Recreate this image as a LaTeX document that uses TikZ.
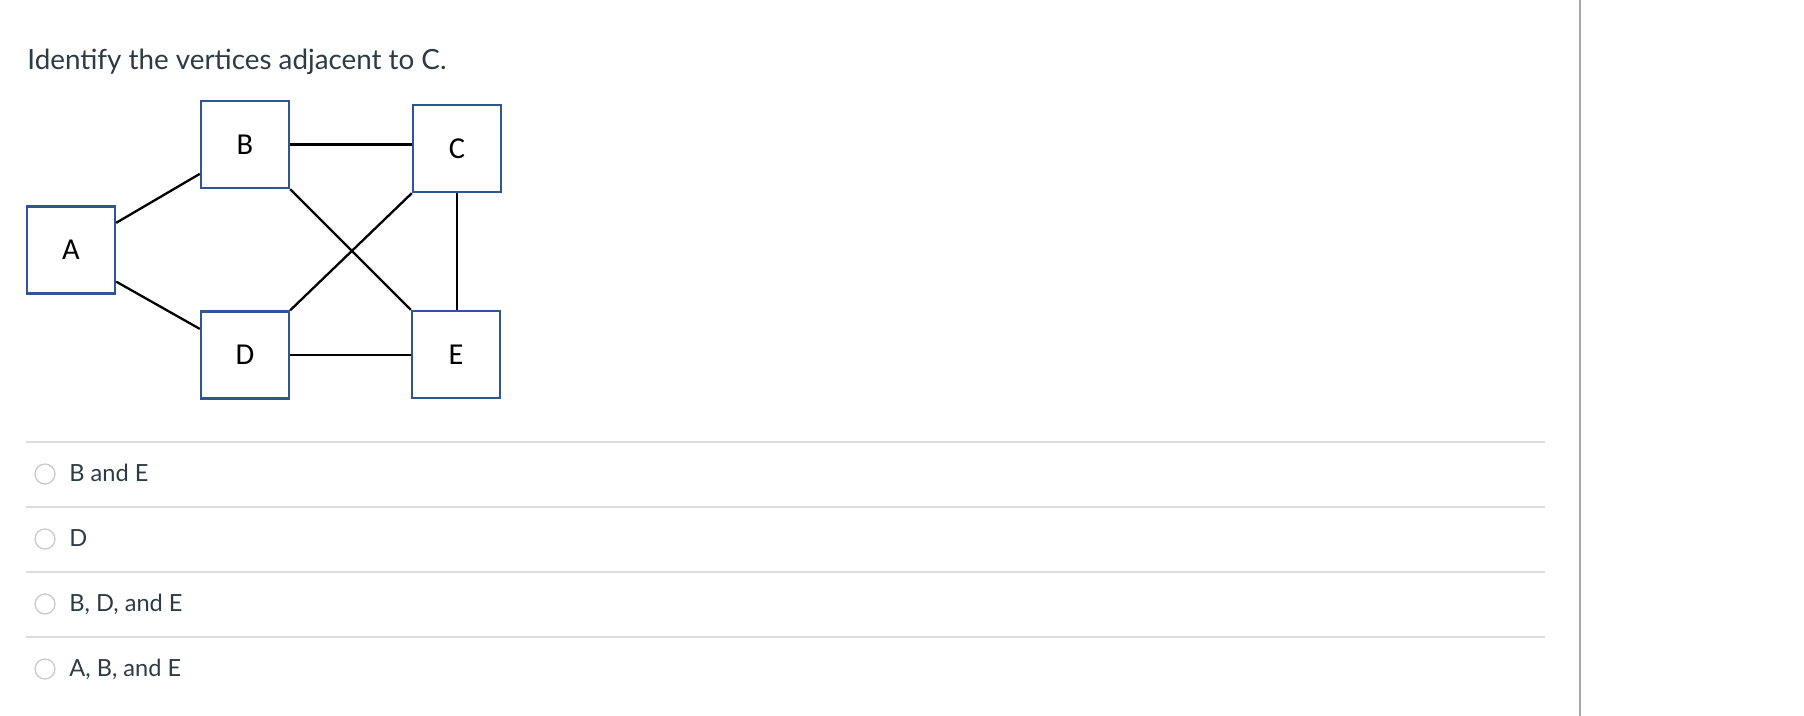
\documentclass[tikz,border=0pt]{standalone}
\usepackage{fontspec}
\setmainfont{Lato}
\newfontfamily\boxfont{Carlito}
\definecolor{txt}{HTML}{2D3B45}
\definecolor{boxblue}{HTML}{2F5597}
\definecolor{sepgray}{HTML}{DDDDDD}
\definecolor{divgray}{HTML}{A8A8A8}
\definecolor{radiogray}{HTML}{C8C8C8}
\begin{document}
\begin{tikzpicture}[x=0.5pt,y=-0.5pt,
  vbox/.style={draw=boxblue,line width=1.2pt,fill=white,minimum width=44pt,minimum height=43.5pt,inner sep=0pt,font=\boxfont\fontsize{15.2}{18}\selectfont},
  edge/.style={draw=black,line width=1.15pt},
  sep/.style={draw=sepgray,line width=1pt},
  radio/.style={circle,draw=radiogray,line width=0.6pt,minimum size=10pt,inner sep=0pt},
  opt/.style={anchor=base west,inner sep=0pt,text=txt,font=\fontsize{11.8}{15}\selectfont},
  title/.style={anchor=base west,inner sep=0pt,text=txt,font=\fontsize{13.9}{18}\selectfont}]
\useasboundingbox (0,0) rectangle (1804,716);
\fill[white] (0,0) rectangle (1804,716);
% divider
\draw[draw=divgray,line width=1pt] (1580,0) -- (1580,716);
% title
\node[title] (q) at (27,70) {Identify the vertices adjacent to C.};
% vertices
\node[vbox] (A) at (71,250) {A};
\node[vbox] (B) at (245,144.5) {B};
\node[vbox] (C) at (457,148.5) {C};
\node[vbox] (D) at (245,355) {D};
\node[vbox] (E) at (456,354.5) {E};
% edges
\draw[edge] (A.31.5) -- (B.213);
\draw[edge] (A.-35) -- (D.150);
\draw[edge] (B.east) -- (C.west |- B.east);
\draw[edge] (B.south east) -- (E.north west);
\draw[edge] (C.south west) -- (D.north east);
\draw[edge] (C.south) -- (E.north -| C.south);
\draw[edge] (D.east) -- (E.west |- D.east);
% separators
\foreach \y in {441.7,506.7,571.7,636.7} {\draw[sep] (26,\y) -- (1545,\y);}
% options
\node[radio] (r1) at (45,474) {};
\node[radio] (r2) at (45,539) {};
\node[radio] (r3) at (45,604) {};
\node[radio] (r4) at (45,669) {};
\node[opt] (o1) at (69,481) {B and E};
\node[opt] (o2) at (69,546) {D};
\node[opt] (o3) at (69,611) {B, D, and E};
\node[opt] (o4) at (69,676) {A, B, and E};
\end{tikzpicture}
\end{document}
